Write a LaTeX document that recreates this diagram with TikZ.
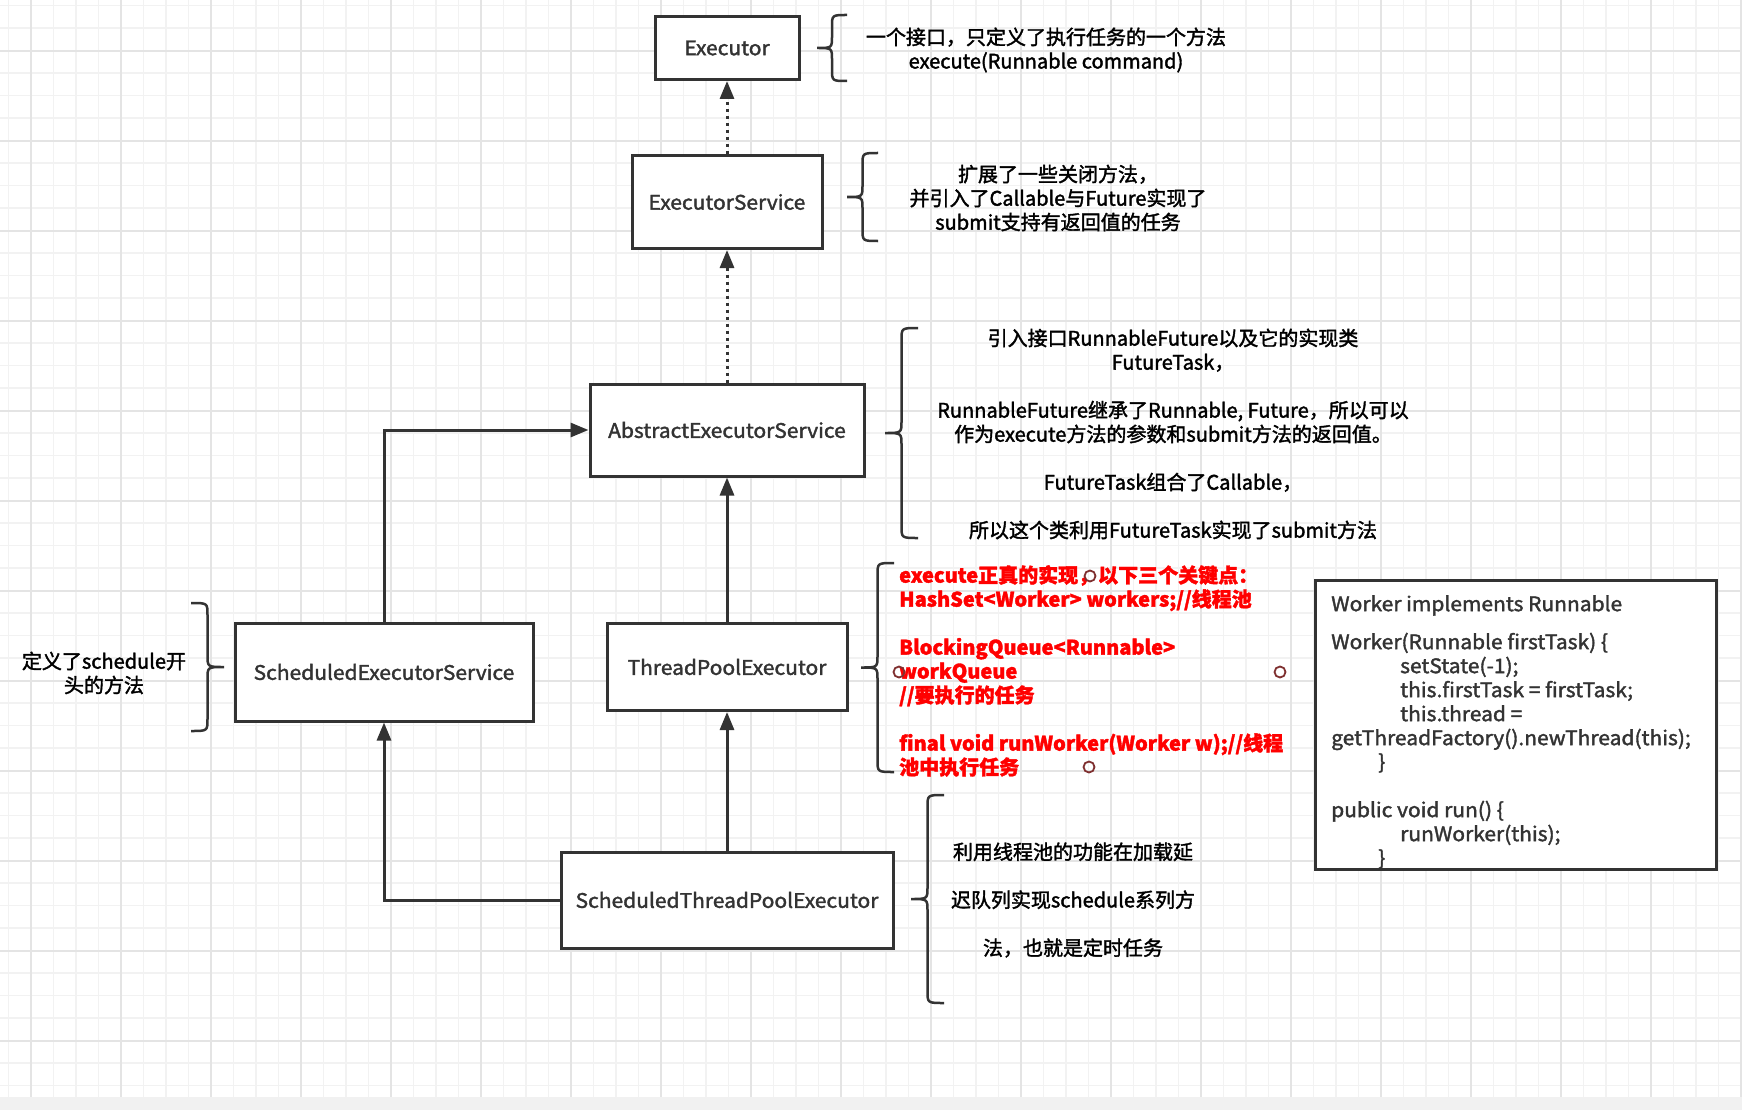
\documentclass[tikz,border=0pt]{standalone}
\usepackage{fontspec}
\setmainfont{Noto Sans CJK SC}[FakeBold=1.8]
\newfontfamily\classfont{Noto Sans CJK SC}[FakeStretch=1.05,FakeBold=1.8]
\usetikzlibrary{arrows.meta}

\definecolor{linegray}{HTML}{333333}
\definecolor{gridminor}{HTML}{F2F2F2}
\definecolor{gridmajor}{HTML}{E4E4E4}
\definecolor{gridband}{HTML}{F1F1F1}
\definecolor{handlered}{HTML}{7F3030}

% #1 arm x, #2 tip x, #3 top y, #4 bottom y
\newcommand{\curlybrace}[4]{%
    \draw[curly] (#1,#3) .. controls ({(#1+#2)/2},#3) .. ({(#1+#2)/2},{#3+12})
        -- ({(#1+#2)/2},{(#3+#4)/2-12}) .. controls ({(#1+#2)/2},{(#3+#4)/2}) .. (#2,{(#3+#4)/2})
        .. controls ({(#1+#2)/2},{(#3+#4)/2}) .. ({(#1+#2)/2},{(#3+#4)/2+12})
        -- ({(#1+#2)/2},{#4-12}) .. controls ({(#1+#2)/2},#4) .. (#1,#4);}

\begin{document}
\begin{tikzpicture}[x=1pt,y=-1pt,
        class/.style={draw=linegray, line width=3pt, fill=white, text=linegray,
            font=\classfont\fontsize{20}{24}\selectfont, inner sep=0pt},
        note/.style={align=center, inner sep=0pt, font=\fontsize{20}{24}\selectfont},
        redtext/.style={align=left, inner sep=0pt, text=red, font=\bfseries\fontsize{20}{24}\selectfont},
        code/.style={align=left, inner sep=0pt, text=linegray, font=\classfont\fontsize{20}{24}\selectfont},
        extends/.style={draw=linegray, line width=3pt, -{Triangle[length=18pt,width=14pt]}},
        implements/.style={extends, dash pattern=on 3pt off 4pt},
        curly/.style={draw=linegray, line width=2.5pt},
        handle/.style={draw=handlered, line width=1.8pt},
        minorline/.style={draw=gridminor, line width=1.5pt},
        majorline/.style={draw=gridmajor, line width=1.8pt}]

        \useasboundingbox (0,0) rectangle (1742,1110);

        % grid paper
        \fill[white] (0,0) rectangle (1742,1097);
        \fill[gridband] (0,1097) rectangle (1742,1110);
        \foreach \i in {0,...,77}
            \draw[minorline] ({8.5+22.5*\i},0) -- ({8.5+22.5*\i},1097);
        \foreach \j in {0,...,48}
            \draw[minorline] (0,{5.7+22.5*\j}) -- (1742,{5.7+22.5*\j});
        \foreach \i in {0,...,19}
            \draw[majorline] ({31+90*\i},0) -- ({31+90*\i},1097);
        \foreach \j in {0,...,11}
            \draw[majorline] (0,{50.7+90*\j}) -- (1742,{50.7+90*\j});

        % classes
        \node[class, minimum width=144pt, minimum height=63pt] (exec) at (727,48) {Executor};
        \node[class, minimum width=190pt, minimum height=93pt] (esvc) at (727,202) {ExecutorService};
        \node[class, minimum width=274pt, minimum height=92pt] (aes) at (727,430) {AbstractExecutorService};
        \node[class, minimum width=298pt, minimum height=98pt] (sesvc) at (384,672) {ScheduledExecutorService};
        \node[class, minimum width=240pt, minimum height=87pt] (tpe) at (727,667) {ThreadPoolExecutor};
        \node[class, minimum width=332pt, minimum height=96pt] (stpe) at (727,900) {ScheduledThreadPoolExecutor};

        \draw[implements] (esvc) -- (exec);
        \draw[implements] (aes) -- (esvc);
        \draw[extends] (tpe) -- (aes);
        \draw[extends] (sesvc.north) |- (aes.west);
        \draw[extends] (stpe) -- (tpe);
        \draw[extends] (stpe.west) -| (sesvc.south);

        % notes
        \curlybrace{847}{817}{15}{81}
        \node[note] (execnote) at (1046,50) {一个接口，只定义了执行任务的一个方法\\execute(Runnable command)};

        \curlybrace{878}{847}{153}{241}
        \node[note] (esvcnote) at (1058,198) {扩展了一些关闭方法，\\并引入了Callable与Future实现了\\submit支持有返回值的任务};

        \curlybrace{918}{885}{328}{538}
        \node[note] (aesnote) at (1173,434) {引入接口RunnableFuture以及它的实现类\\FutureTask，\\[24pt]RunnableFuture继承了Runnable, Future，所以可以\\作为execute方法的参数和submit方法的返回值。\\[24pt]FutureTask组合了Callable，\\[24pt]所以这个类利用FutureTask实现了submit方法};

        \curlybrace{191}{224}{603}{731}
        \node[note] (sesvcnote) at (104,673) {定义了schedule开\\头的方法};

        \curlybrace{894}{861}{563}{772}
        \node[redtext, anchor=north west] (tpenote) at (899,565) {execute正真的实现，以下三个关键点：\\HashSet<Worker> workers;//线程池\\[24pt]BlockingQueue<Runnable>\\workQueue\\//要执行的任务\\[24pt]final void runWorker(Worker w);//线程\\池中执行任务};
        \draw[handle] (1090,576) circle (5.5pt);
        \draw[handle] (899,672) circle (5.5pt);
        \draw[handle] (1280,672) circle (5.5pt);
        \draw[handle] (1089,767) circle (5.5pt);

        \curlybrace{944}{911}{795}{1003}
        \node[note] (stpenote) at (1073,900) {利用线程池的功能在加载延\\[24pt]迟队列实现schedule系列方\\[24pt]法，也就是定时任务};

        % Worker
        \node[draw=linegray, line width=3pt, fill=white, minimum width=401pt, minimum height=289pt] (worker) at (1516,725) {};
        \node[code, anchor=north west] (workercode) at (1331,595) {Worker implements Runnable\\[14pt]Worker(Runnable firstTask) \{\\\hspace*{69pt}setState(-1);\\\hspace*{69pt}this.firstTask = firstTask;\\\hspace*{69pt}this.thread =\\getThreadFactory().newThread(this);\\\hspace*{47pt}\}\\[24pt]public void run() \{\\\hspace*{69pt}runWorker(this);\\\hspace*{47pt}\}};

\end{tikzpicture}
\end{document}
